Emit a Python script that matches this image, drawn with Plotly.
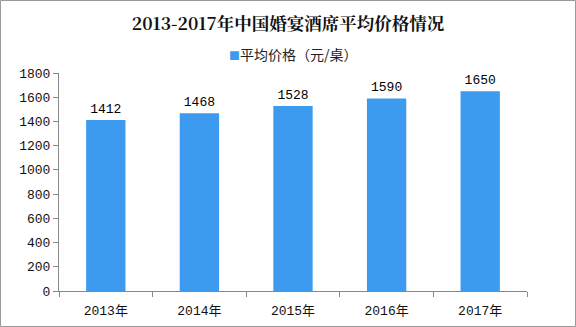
import plotly.graph_objects as go

years = ["2013年", "2014年", "2015年", "2016年", "2017年"]
prices = [1412, 1468, 1528, 1590, 1650]
series_name = "平均价格（元/桌）"
title = "2013-2017年中国婚宴酒席平均价格情况"

W, H = 576, 327
ml, mr, mt, mb = 59, 49, 73, 36
pw, ph = W - ml - mr, H - mt - mb
bar_color = "#3D9BEF"
num_font = "Liberation Mono, Noto Sans CJK SC"

fig = go.Figure()
fig.add_trace(go.Bar(
    x=years, y=prices, name=series_name, showlegend=False,
    marker=dict(color=bar_color, line=dict(width=0)),
    text=prices, textposition="outside",
    textfont=dict(size=13, color="#000", family=num_font),
    cliponaxis=False,
))

fig.add_annotation(
    text="<span style='color:%s;font-size:11px'>■</span>%s" % (bar_color, series_name),
    xref="paper", yref="paper", x=0.5, xanchor="center",
    y=1 + (73 - 54) / ph, yanchor="middle", showarrow=False,
    font=dict(size=14, color="#222", family="Noto Sans CJK SC"),
)

fig.update_layout(
    width=W, height=H,
    margin=dict(l=ml, r=mr, t=mt, b=mb),
    paper_bgcolor="white", plot_bgcolor="white",
    bargap=0.58,
    title=dict(text="<b>" + title + "</b>", x=0.5, xanchor="center", y=1 - 24 / H, yanchor="middle",
               font=dict(size=17.5, color="#111", family="Noto Serif CJK SC, Noto Sans CJK SC")),
    font=dict(family="Noto Sans CJK SC", size=13, color="#111"),
    xaxis=dict(showline=True, linecolor="#888", linewidth=1, ticks="outside", tickson="boundaries",
               ticklen=5, tickcolor="#888", showgrid=False, ticklabelstandoff=7, automargin=False,
               tickfont=dict(size=13, family=num_font, color="#111")),
    yaxis=dict(range=[0, 1800], dtick=200, showline=True, linecolor="#888", linewidth=1,
               ticks="outside", ticklen=5, tickcolor="#888", showgrid=False, zeroline=False,
               automargin=False,
               tickfont=dict(size=13, family=num_font, color="#111")),
    shapes=[dict(type="rect", xref="paper", yref="paper",
                 x0=-(ml - 0.5) / pw, x1=1 + (mr - 0.5) / pw,
                 y0=-(mb - 0.5) / ph, y1=1 + (mt - 0.5) / ph,
                 line=dict(color="#999", width=1), layer="below")],
)

fig.write_html("out.html")
